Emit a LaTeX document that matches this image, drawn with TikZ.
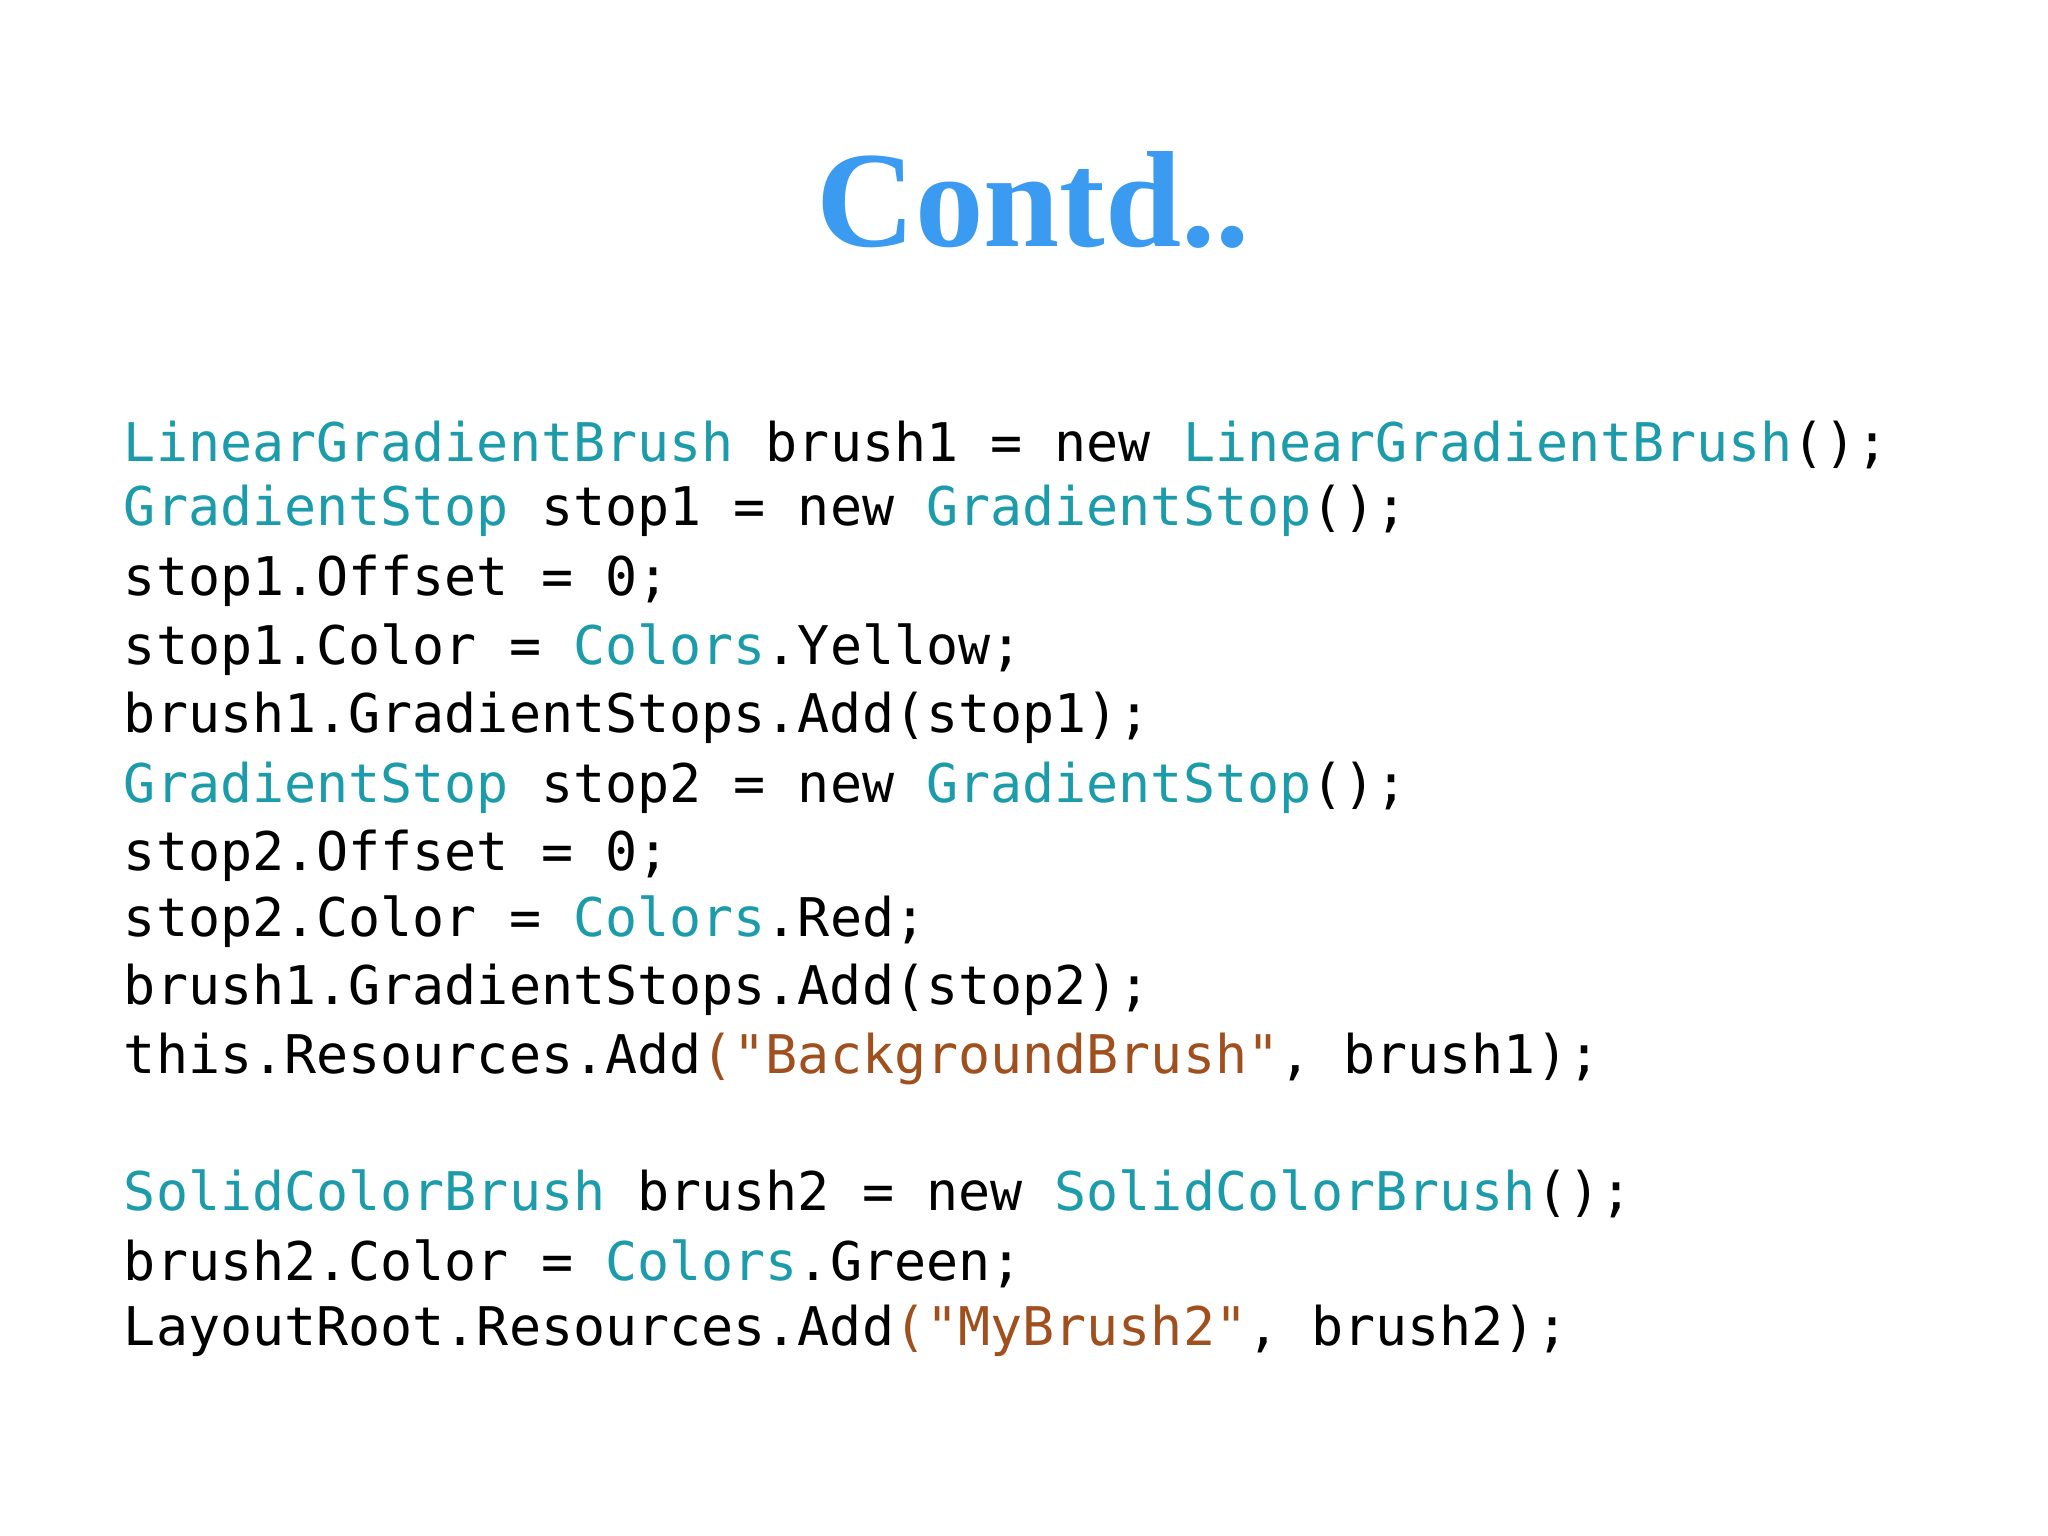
\documentclass[tikz,border=0pt]{standalone}
\usepackage{fontspec}
\setmonofont{DejaVu Sans Mono}
\setmainfont{Liberation Serif}
\definecolor{kw}{HTML}{1C9CAA}
\definecolor{str}{HTML}{A0501E}
\definecolor{ttl}{HTML}{3B9BF0}
\newcommand{\K}[1]{\textcolor{kw}{#1}}
\newcommand{\Sg}[1]{\textcolor{str}{#1}}
\begin{document}
\begin{tikzpicture}[x=1pt,y=1pt,
  code/.style={anchor=west,inner sep=0pt,font=\fontsize{40.5}{48}\ttfamily,text height=0.75em,text depth=0.25em}]
\useasboundingbox[fill=white] (0,0) rectangle (1556,-1167);
\node[font=\fontsize{104}{120}\selectfont\bfseries,text=ttl] (title) at (785,-152) {Contd..};
\node[code] (l1) at (94,-348) {\K{LinearGradientBrush} brush1 = new \K{LinearGradientBrush}();};
\node[code] (l2) at (94,-397) {\K{GradientStop} stop1 = new \K{GradientStop}();};
\node[code] (l3) at (94,-450) {stop1.Offset = 0;};
\node[code] (l4) at (94,-502) {stop1.Color = \K{Colors}.Yellow;};
\node[code] (l5) at (94,-554) {brush1.GradientStops.Add(stop1);};
\node[code] (l6) at (94,-607) {\K{GradientStop} stop2 = new \K{GradientStop}();};
\node[code] (l7) at (94,-659) {stop2.Offset = 0;};
\node[code] (l8) at (94,-709) {stop2.Color = \K{Colors}.Red;};
\node[code] (l9) at (94,-761) {brush1.GradientStops.Add(stop2);};
\node[code] (l10) at (94,-813) {this.Resources.Add\Sg{("BackgroundBrush"}, brush1);};
\node[code] (l11) at (94,-917) {\K{SolidColorBrush} brush2 = new \K{SolidColorBrush}();};
\node[code] (l12) at (94,-970) {brush2.Color = \K{Colors}.Green;};
\node[code] (l13) at (94,-1020) {LayoutRoot.Resources.Add\Sg{("MyBrush2"}, brush2);};
\end{tikzpicture}
\end{document}
